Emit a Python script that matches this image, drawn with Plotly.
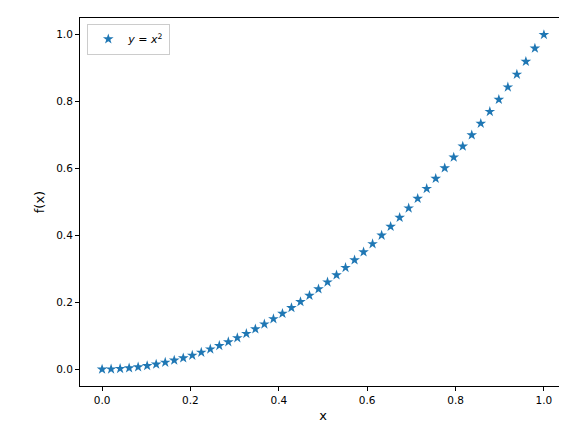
import plotly.graph_objects as go

x_vals = [0.0, 0.0204, 0.0408, 0.0612, 0.0816, 0.1020, 0.1224, 0.1429, 0.1633, 0.1837,
          0.2041, 0.2245, 0.2449, 0.2653, 0.2857, 0.3061, 0.3265, 0.3469, 0.3673, 0.3878,
          0.4082, 0.4286, 0.4490, 0.4694, 0.4898, 0.5102, 0.5306, 0.5510, 0.5714, 0.5918,
          0.6122, 0.6327, 0.6531, 0.6735, 0.6939, 0.7143, 0.7347, 0.7551, 0.7755, 0.7959,
          0.8163, 0.8367, 0.8571, 0.8776, 0.8980, 0.9184, 0.9388, 0.9592, 0.9796, 1.0]
y_vals = [0.0, 0.0004, 0.0017, 0.0037, 0.0067, 0.0104, 0.0150, 0.0204, 0.0267, 0.0337,
          0.0416, 0.0504, 0.0600, 0.0704, 0.0816, 0.0937, 0.1066, 0.1204, 0.1349, 0.1504,
          0.1666, 0.1837, 0.2016, 0.2203, 0.2399, 0.2603, 0.2816, 0.3036, 0.3265, 0.3503,
          0.3748, 0.4003, 0.4265, 0.4536, 0.4815, 0.5102, 0.5398, 0.5702, 0.6014, 0.6335,
          0.6664, 0.7001, 0.7347, 0.7701, 0.8064, 0.8434, 0.8813, 0.9200, 0.9596, 1.0]
tick_vals = [0.0, 0.2, 0.4, 0.6, 0.8, 1.0]
tick_text = ["0.0", "0.2", "0.4", "0.6", "0.8", "1.0"]

fig = go.Figure(go.Scatter(
    x=x_vals, y=y_vals, mode="markers", name="<i>y</i> = <i>x</i><sup>2</sup>",
    marker=dict(symbol="star", size=8, color="#1f77b4", line=dict(width=0)),
))
axis = dict(showgrid=False, zeroline=False, showline=True, linecolor="black", mirror=True,
            ticks="outside", ticklen=4, tickcolor="black", tickvals=tick_vals, ticktext=tick_text,
            range=[-0.05, 1.05], tickfont=dict(size=10.5, color="black"), automargin=False)
fig.update_layout(
    width=567, height=432, plot_bgcolor="white", paper_bgcolor="white",
    font=dict(family="DejaVu Sans", size=11, color="black"),
    margin=dict(l=72, r=9, t=10, b=54),
    xaxis=dict(axis, title=dict(text="x", standoff=6)),
    yaxis=dict(axis, title=dict(text="f(x)", standoff=8)),
    showlegend=True,
    legend=dict(x=0.015, y=0.985, xanchor="left", yanchor="top", bgcolor="white",
                bordercolor="#cccccc", borderwidth=1, font=dict(size=11)),
)
fig.write_html("out.html")
